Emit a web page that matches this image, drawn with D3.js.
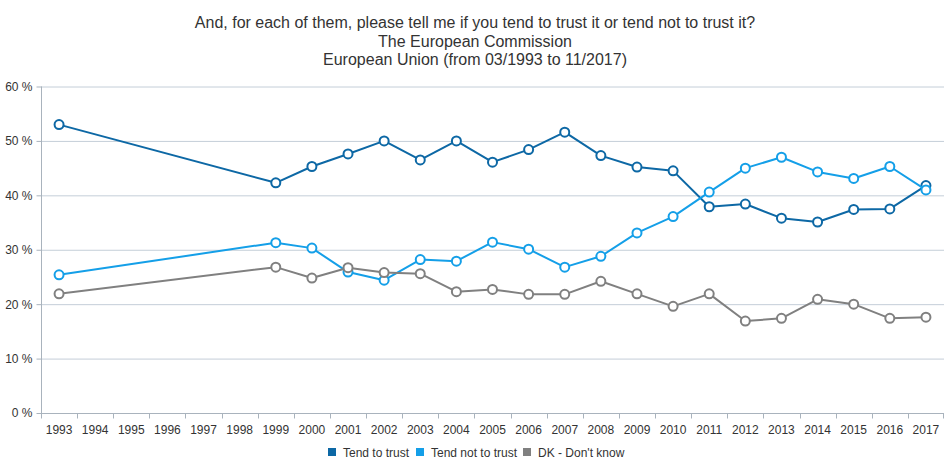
<!DOCTYPE html>
<html>
<head>
<meta charset="utf-8">
<script src="https://cdn.jsdelivr.net/npm/d3@7"></script>
<style>
  body { margin: 0; background: #fff; }
  svg { font-family: "Liberation Sans", Arial, sans-serif; }
</style>
</head>
<body>
<script>
// axis categories and the years that actually have a survey value
const years = d3.range(1993, 2018).map(String);
const surveyYears = ["1993", "1999", "2000", "2001", "2002", "2003", "2004", "2005", "2006", "2007",
  "2008", "2009", "2010", "2011", "2012", "2013", "2014", "2015", "2016", "2017"];

const trust    = [53.0, 42.3, 45.3, 47.6, 50.0, 46.5, 50.0, 46.1, 48.4, 51.6, 47.3, 45.2, 44.5, 37.9, 38.4, 35.8, 35.1, 37.4, 37.5, 41.8];
const notTrust = [25.4, 31.3, 30.3, 25.9, 24.4, 28.2, 27.9, 31.4, 30.1, 26.8, 28.8, 33.1, 36.1, 40.6, 45.0, 47.0, 44.3, 43.1, 45.3, 41.0];
const dk       = [21.9, 26.8, 24.8, 26.7, 25.8, 25.6, 22.3, 22.7, 21.8, 21.8, 24.2, 21.9, 19.6, 21.9, 16.9, 17.4, 20.9, 20.0, 17.4, 17.6];

const yTicks = [0, 10, 20, 30, 40, 50, 60];

const seriesNames = ["Tend to trust", "Tend not to trust", "DK - Don't know"];
const seriesColors = ["#0d68a5", "#149fe8", "#808080"];
const seriesValues = [trust, notTrust, dk];

const titleLines = [
  "And, for each of them, please tell me if you tend to trust it or tend not to trust it?",
  "The European Commission",
  "European Union (from 03/1993 to 11/2017)"
];

const width = 950, height = 475;
const plot = {left: 41, right: 944, top: 86.5, bottom: 413};

const svg = d3.select("body").append("svg")
    .attr("width", width)
    .attr("height", height);

// title
svg.append("text")
    .attr("text-anchor", "middle")
    .attr("fill", "#333")
    .style("font-size", "16px")
  .selectAll("tspan")
  .data(titleLines)
  .enter().append("tspan")
    .attr("x", width / 2)
    .attr("y", (d, i) => 28 + i * 18.5)
    .text(d => d);

const x = d3.scaleBand()
    .domain(years)
    .range([plot.left, plot.right])
    .padding(0);

const y = d3.scaleLinear()
    .domain([0, 60])
    .range([plot.bottom, plot.top]);

const cx = d => x(d) + x.bandwidth() / 2;

// gridlines
svg.append("g")
  .selectAll("line")
  .data(yTicks.filter(t => t > 0))
  .enter().append("line")
    .attr("x1", plot.left)
    .attr("x2", plot.right)
    .attr("y1", d => y(d) + 0.5)
    .attr("y2", d => y(d) + 0.5)
    .attr("stroke", "#c4ced8")
    .attr("stroke-width", 1);

// y axis
const yAxis = d3.axisLeft(y)
    .tickValues(yTicks)
    .tickSize(5)
    .tickPadding(4)
    .tickFormat(d => d + " %");

const gy = svg.append("g")
    .attr("transform", `translate(${plot.left + 0.5},0)`)
    .call(yAxis);
gy.select(".domain").attr("stroke", "#a9b3bd").attr("d", `M0,${plot.top}V${plot.bottom}`);
gy.selectAll(".tick line").attr("stroke", "#a9b3bd");
gy.selectAll(".tick text")
    .attr("fill", "#333")
    .style("font-size", "12px")
    .style("font-family", "'Liberation Sans', Arial, sans-serif");

// x axis: ticks on band boundaries, labels at band centres
const gx = svg.append("g")
    .attr("transform", `translate(0,${plot.bottom + 0.5})`);
gx.append("line")
    .attr("x1", plot.left)
    .attr("x2", plot.right)
    .attr("stroke", "#a9b3bd");
gx.selectAll(".tk")
  .data(years.concat(["end"]))
  .enter().append("line")
    .attr("class", "tk")
    .attr("x1", d => d === "end" ? plot.right - 0.5 : Math.round(x(d)) + 0.5)
    .attr("x2", d => d === "end" ? plot.right - 0.5 : Math.round(x(d)) + 0.5)
    .attr("y1", 0)
    .attr("y2", 5)
    .attr("stroke", "#a9b3bd");
gx.selectAll("text")
  .data(years)
  .enter().append("text")
    .attr("x", d => cx(d))
    .attr("y", 20)
    .attr("text-anchor", "middle")
    .attr("fill", "#333")
    .style("font-size", "12px")
    .text(d => d);

// lines and markers
const line = d3.line()
    .x((d, i) => cx(surveyYears[i]))
    .y(d => y(d));

seriesValues.forEach((vals, s) => {
  const g = svg.append("g");
  g.append("path")
      .datum(vals)
      .attr("d", line)
      .attr("fill", "none")
      .attr("stroke", seriesColors[s])
      .attr("stroke-width", 2)
      .attr("stroke-linejoin", "round");
  g.selectAll("circle")
    .data(vals)
    .enter().append("circle")
      .attr("cx", (d, i) => cx(surveyYears[i]))
      .attr("cy", d => y(d))
      .attr("r", 4.5)
      .attr("fill", "#fff")
      .attr("stroke", seriesColors[s])
      .attr("stroke-width", 2);
});

// legend
const legend = svg.append("g")
    .attr("transform", "translate(0,453)");
const legendX = [328, 416, 523];
seriesNames.forEach((name, i) => {
  legend.append("rect")
      .attr("x", legendX[i])
      .attr("y", -5)
      .attr("width", 8)
      .attr("height", 8)
      .attr("fill", seriesColors[i]);
  legend.append("text")
      .attr("x", legendX[i] + 15)
      .attr("y", 4)
      .attr("fill", "#333")
      .style("font-size", "12px")
      .text(name);
});
</script>
</body>
</html>
